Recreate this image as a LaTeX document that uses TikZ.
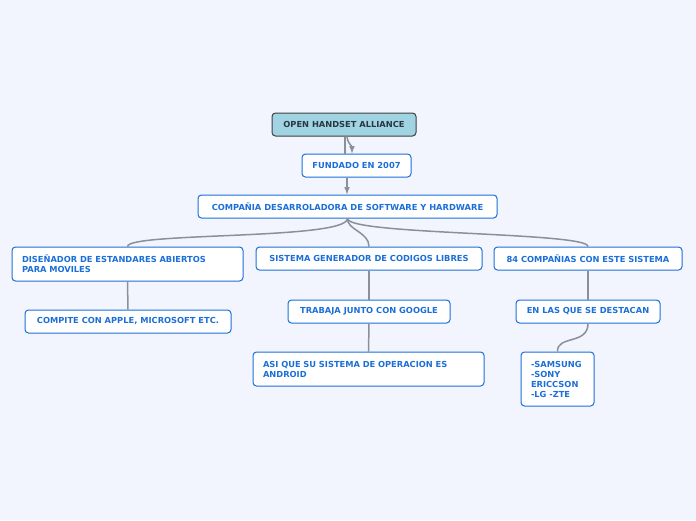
\documentclass[tikz,border=0pt]{standalone}
\usepackage{fontspec}
\setmainfont{DejaVu Sans}
\begin{document}
\begin{tikzpicture}[x=1pt,y=-1pt,
  bx/.style={draw=blue1,fill=white,rounded corners=3.5pt,line width=1pt,text=blue1,font=\bfseries\fontsize{8.3}{10}\selectfont,inner sep=0pt,align=left},
  cn/.style={draw=gray1,line width=1.5pt},
  ]
\definecolor{blue1}{HTML}{1C6FD8}
\definecolor{gray1}{HTML}{8A8F99}
\definecolor{bg}{HTML}{F2F5FE}
\useasboundingbox[fill=bg] (0,0) rectangle (696,520);
\node[bx,draw=black!75,fill={rgb,255:red,160;green,212;blue,226},text={rgb,255:red,40;green,55;blue,65},minimum width=144pt,minimum height=23pt] (root) at (344,124.5) {OPEN HANDSET ALLIANCE};
\node[bx,minimum width=109pt,minimum height=23pt] (fund) at (356.5,165.5) {FUNDADO EN 2007};
\node[bx,minimum width=299pt,minimum height=23pt] (comp) at (347.5,206.5) {COMPAÑIA DESARROLADORA DE SOFTWARE Y HARDWARE};
\node[bx,minimum width=231pt,minimum height=34pt,text width=211pt] (dis) at (127.5,264) {DISEÑADOR DE ESTANDARES ABIERTOS\\PARA MOVILES};
\node[bx,minimum width=226pt,minimum height=23pt] (sis) at (369,258.5) {SISTEMA GENERADOR DE CODIGOS LIBRES};
\node[bx,minimum width=188pt,minimum height=23pt] (c84) at (588,258.5) {84 COMPAÑIAS CON ESTE SISTEMA};
\node[bx,minimum width=206pt,minimum height=23pt] (apl) at (128,321.5) {COMPITE CON APPLE, MICROSOFT ETC.};
\node[bx,minimum width=162pt,minimum height=23pt] (goo) at (369,311.5) {TRABAJA JUNTO CON GOOGLE};
\node[bx,minimum width=231pt,minimum height=34pt,text width=211pt] (and) at (368.5,369) {ASI QUE SU SISTEMA DE OPERACION ES\\ANDROID};
\node[bx,minimum width=73pt,minimum height=54pt,text width=53pt] (sam) at (557.5,379) {-SAMSUNG\\-SONY\\ERICCSON\\-LG -ZTE};
\node[bx,minimum width=144pt,minimum height=23pt] (des) at (588,311.5) {EN LAS QUE SE DESTACAN};
\draw[cn] (root.south -| 345,0) -- (fund.north -| 345,0);
\draw[cn,->,>=latex] (root.south -| 347,0) .. controls (348,145) and (352,145) .. (fund.north -| 352,0);
\draw[cn,->,>=latex] (fund.south -| 347,0) -- (comp.north -| 347,0);
\draw[cn] (comp.south) .. controls (347,240) and (128,232) .. (dis.north);
\draw[cn] (comp.south) .. controls (347,230) and (369,232) .. (sis.north);
\draw[cn] (comp.south) .. controls (347,235) and (588,232) .. (c84.north);
\draw[cn] (dis.south) -- (apl.north);
\draw[cn] (sis.south) -- (goo.north);
\draw[cn] (goo.south) -- (and.north);
\draw[cn] (c84.south) -- (des.north);
\draw[cn] (des.south) .. controls (588,345) and (557,335) .. (sam.north);
\end{tikzpicture}
\end{document}
